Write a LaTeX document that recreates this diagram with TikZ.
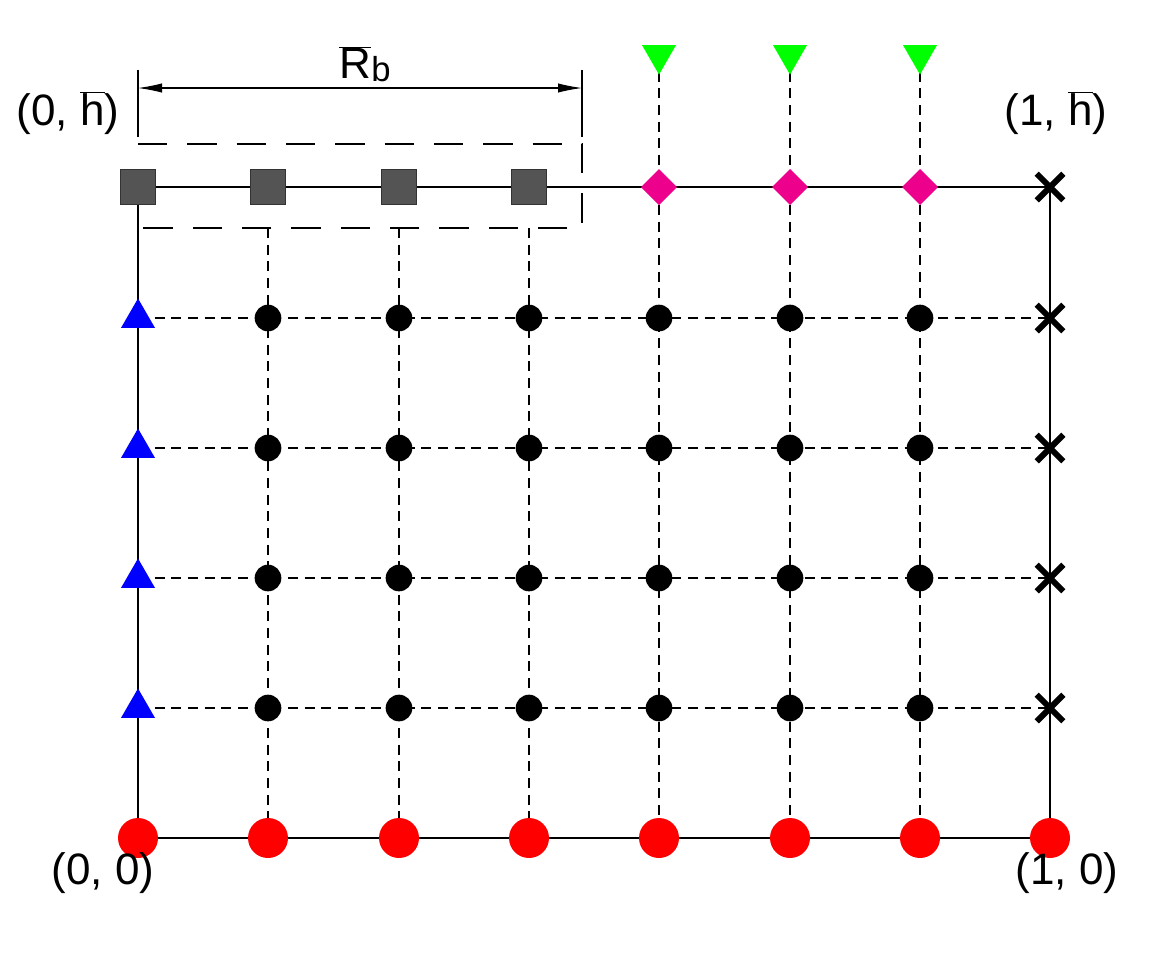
\documentclass[tikz,border=0pt]{standalone}
\usepackage{fontspec}
\setmainfont{Liberation Sans}
\usetikzlibrary{shapes.geometric,shapes.misc,arrows.meta,calc,positioning}

\tikzset{
  mk/.style={inner sep=0pt,outer sep=0pt},
  sq/.style={mk,draw=black!80,fill=black!67,minimum size=26pt},
  dm/.style={mk,diamond,fill=magenta,minimum size=27pt},
  gtri/.style={mk,isosceles triangle,isosceles triangle apex angle=60,shape border rotate=-90,fill=green,minimum height=22pt},
  btri/.style={mk,isosceles triangle,isosceles triangle apex angle=60,shape border rotate=90,fill=blue,minimum height=22pt},
  dot/.style={mk,circle,fill=black,minimum size=20pt},
  rdot/.style={mk,circle,fill=red,minimum size=30pt},
  xx/.style={mk,cross out,draw=black,line width=4.5pt,minimum size=20pt},
  grid/.style={line width=0.9pt,dash pattern=on 7.5pt off 5pt},
  edge/.style={line width=2.2pt},
  lbl/.style={font=\fontsize{33}{38}\selectfont}
}

\begin{document}
\begin{tikzpicture}[x=0.75pt,y=-0.75pt]
\useasboundingbox (0,0) rectangle (1150,958);

% grid coordinates
\foreach \i/\x in {0/138,1/268,2/399,3/529,4/659,5/790,6/920,7/1050}
  \foreach \j/\y in {0/838,1/708,2/578,3/448,4/318,5/187}
    \coordinate (c-\i-\j) at (\x,\y);
\foreach \i/\x in {4/659,5/790,6/920}
  \coordinate (t-\i) at (\x,55);
\foreach \i in {1,2,3}
  \coordinate (b-\i) at ($(c-\i-5)+(0,41)$);

% dashed grid
\foreach \j in {1,...,4}
  \draw[grid] (c-0-\j) -- (c-7-\j);
\foreach \i in {1,2,3}
  \draw[grid] (b-\i) -- (c-\i-0);
\foreach \i in {4,5,6}
  \draw[grid] (t-\i) -- (c-\i-0);

% boundary
\draw[edge] (c-0-0) -- (c-7-0) -- (c-7-5) -- (c-0-5) -- cycle;

% window for R_b
\draw[line width=2.2pt,dash pattern=on 22pt off 15pt] (138,144) -- (582,144) -- (582,228) -- (138,228);
\draw[line width=0.8pt] (138,70) -- (138,137);
\draw[line width=0.8pt] (582,70) -- (582,137);
\coordinate (rb-l) at (138,88);
\coordinate (rb-r) at (582,88);
\draw[line width=0.8pt,{Latex[length=18pt,width=7pt]}-{Latex[length=18pt,width=7pt]}] (rb-l) -- (rb-r);
\node[lbl] (rb) at (365,64) {$\overline{\mbox{R}}$\raisebox{-2pt}{\fontsize{26}{30}\selectfont b}};

% markers
\foreach \i in {0,...,7}
  \node[rdot] (r-\i) at (c-\i-0) {};
\foreach \i in {1,...,6}
  \foreach \j in {1,...,4}
    \node[dot] (d-\i-\j) at (c-\i-\j) {};
\foreach \j in {1,...,4}
  \node[btri] (bl-\j) at (c-0-\j) {};
\foreach \j in {1,...,5}
  \node[xx] (x-\j) at (c-7-\j) {};
\foreach \i in {0,...,3}
  \node[sq] (s-\i) at (c-\i-5) {};
\foreach \i in {4,5,6}
  \node[dm] (m-\i) at (c-\i-5) {};
\foreach \i in {4,5,6}
  \node[gtri] (g-\i) at (t-\i) {};

% corner labels
\node[lbl] (l-0h) at (68,113) {(0, $\overline{\mbox{h}}$)};
\node[lbl] (l-1h) at (1056,113) {(1, $\overline{\mbox{h}}$)};
\node[lbl] (l-00) at (103,873) {(0, 0)};
\node[lbl] (l-10) at (1067,873) {(1, 0)};
\end{tikzpicture}
\end{document}
